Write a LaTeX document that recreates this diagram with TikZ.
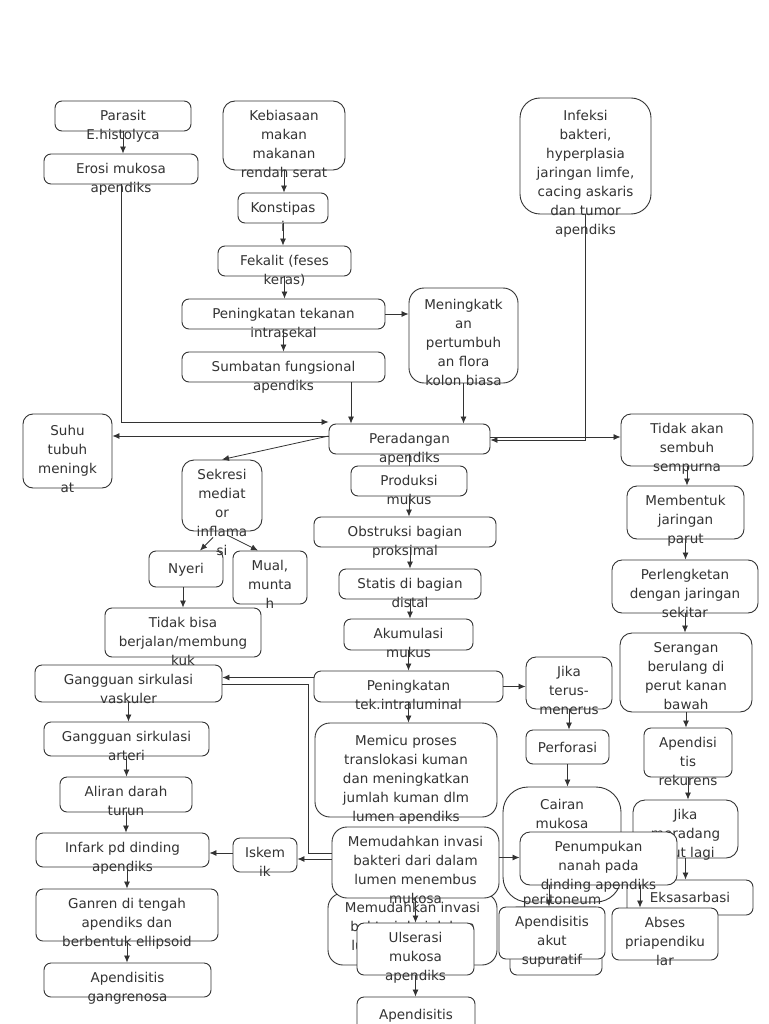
\documentclass[tikz,border=0pt]{standalone}
\usepackage{fontspec}
\setmainfont{DejaVu Sans}
\usetikzlibrary{arrows.meta}
\definecolor{garis}{HTML}{333333}
\tikzset{>={Latex[length=7pt,width=6pt]}}
\tikzset{kotak/.style={draw=garis, fill=white, line width=0.9pt, rounded corners=7pt, inner sep=0pt},
  teks/.style={anchor=north, yshift=-9.5pt, align=center, inner sep=0pt, text=garis, font=\fontsize{13.5}{19}\selectfont, execute at begin node=\strut},
  panah/.style={->, draw=garis, line width=0.8pt},
  garisan/.style={draw=garis, line width=0.8pt}}

\begin{document}
\begin{tikzpicture}[x=1pt,y=-1pt]

\useasboundingbox (0,0) rectangle (768,1024);

\node[kotak, minimum width=136pt, minimum height=30pt] (parasit) at (123,116) {};
\node[teks] at (parasit.north) {Parasit\\E.histolyca};
\node[kotak, minimum width=154pt, minimum height=30pt] (erosi) at (121,169) {};
\node[teks] at (erosi.north) {Erosi mukosa\\apendiks};
\node[kotak, minimum width=122pt, minimum height=69pt, rounded corners=12pt] (kebiasaan) at (284,135.5) {};
\node[teks] at (kebiasaan.north) {Kebiasaan\\makan\\makanan\\rendah serat};
\node[kotak, minimum width=90pt, minimum height=30pt] (konstipasi) at (283,208) {};
\node[teks] at (konstipasi.north) {Konstipas\\i};
\node[kotak, minimum width=133pt, minimum height=30pt] (fekalit) at (284.5,261) {};
\node[teks] at (fekalit.north) {Fekalit (feses\\keras)};
\node[kotak, minimum width=203pt, minimum height=30pt] (tekanan) at (283.5,314) {};
\node[teks] at (tekanan.north) {Peningkatan tekanan\\intrasekal};
\node[kotak, minimum width=203pt, minimum height=30pt] (sumbatan) at (283.5,367) {};
\node[teks] at (sumbatan.north) {Sumbatan fungsional\\apendiks};
\node[kotak, minimum width=109pt, minimum height=95pt, rounded corners=15pt] (flora) at (463.5,335.5) {};
\node[teks, yshift=-2pt] at (flora.north) {Meningkatk\\an\\pertumbuh\\an flora\\kolon biasa};
\node[kotak, minimum width=131pt, minimum height=116pt, rounded corners=20pt] (infeksi) at (585.5,156) {};
\node[teks, yshift=-3pt] at (infeksi.north) {Infeksi\\bakteri,\\hyperplasia\\jaringan limfe,\\cacing askaris\\dan tumor\\apendiks};

\node[kotak, minimum width=89pt, minimum height=74pt, rounded corners=10pt] (suhu) at (67.5,451) {};
\node[teks, yshift=-2pt] at (suhu.north) {Suhu\\tubuh\\meningk\\at};
\node[kotak, minimum width=161pt, minimum height=30pt] (peradangan) at (409.5,439) {};
\node[teks] at (peradangan.north) {Peradangan\\apendiks};
\node[kotak, minimum width=132pt, minimum height=52pt, rounded corners=10pt] (tidakakan) at (687,440) {};
\node[teks] at (tidakakan.north) {Tidak akan\\sembuh\\sempurna};
\node[kotak, minimum width=116pt, minimum height=30pt] (produksi) at (409,481) {};
\node[teks] at (produksi.north) {Produksi\\mukus};
\node[kotak, minimum width=182pt, minimum height=30pt] (obstruksi) at (405,532) {};
\node[teks] at (obstruksi.north) {Obstruksi bagian\\proksimal};
\node[kotak, minimum width=74pt, minimum height=36pt] (nyeri) at (186,569) {};
\node[teks] at (nyeri.north) {Nyeri};
\node[kotak, minimum width=74pt, minimum height=53pt] (mual) at (270,577.5) {};
\node[teks] at (mual.north) {Mual,\\munta\\h};
\node[kotak, minimum width=80pt, minimum height=71pt, rounded corners=12pt] (sekresi) at (222,495.5) {};
\node[teks] at (sekresi.north) {Sekresi\\mediat\\or\\inflama\\si};
\node[kotak, minimum width=142pt, minimum height=30pt] (statis) at (410,584) {};
\node[teks] at (statis.north) {Statis di bagian\\distal};
\node[kotak, minimum width=117pt, minimum height=53pt, rounded corners=10pt] (membentuk) at (685.5,512.5) {};
\node[teks] at (membentuk.north) {Membentuk\\jaringan\\parut};
\node[kotak, minimum width=146pt, minimum height=53pt, rounded corners=10pt] (perlengketan) at (685,586.5) {};
\node[teks] at (perlengketan.north) {Perlengketan\\dengan jaringan\\sekitar};
\node[kotak, minimum width=156pt, minimum height=49pt] (tidakbisa) at (183,632.5) {};
\node[teks] at (tidakbisa.north) {Tidak bisa\\berjalan/membung\\kuk};
\node[kotak, minimum width=129pt, minimum height=31pt] (akumulasi) at (408.5,634.5) {};
\node[teks] at (akumulasi.north) {Akumulasi\\mukus};
\node[kotak, minimum width=132pt, minimum height=79pt, rounded corners=12pt] (serangan) at (686,672.5) {};
\node[teks] at (serangan.north) {Serangan\\berulang di\\perut kanan\\bawah};

\node[kotak, minimum width=187pt, minimum height=37pt] (vaskuler) at (128.5,683.5) {};
\node[teks] at (vaskuler.north) {Gangguan sirkulasi\\vaskuler};
\node[kotak, minimum width=189pt, minimum height=31pt] (intraluminal) at (408.5,686.5) {};
\node[teks] at (intraluminal.north) {Peningkatan\\tek.intraluminal};
\node[kotak, minimum width=86pt, minimum height=52pt, rounded corners=10pt] (jikaterus) at (569,683) {};
\node[teks] at (jikaterus.north) {Jika\\terus-\\menerus};
\node[kotak, minimum width=165pt, minimum height=34pt] (arteri) at (126.5,739) {};
\node[teks] at (arteri.north) {Gangguan sirkulasi\\arteri};
\node[kotak, minimum width=182pt, minimum height=94pt, rounded corners=15pt] (memicu) at (406,770) {};
\node[teks, yshift=-3pt] at (memicu.north) {Memicu proses\\translokasi kuman\\dan meningkatkan\\jumlah kuman dlm\\lumen apendiks};
\node[kotak, minimum width=83pt, minimum height=34pt] (perforasi) at (567.5,747) {};
\node[teks] at (perforasi.north) {Perforasi};
\node[kotak, minimum width=88pt, minimum height=49pt] (rekurens) at (688,752.5) {};
\node[teks] at (rekurens.north) {Apendisi\\tis\\rekurens};
\node[kotak, minimum width=132pt, minimum height=35pt] (aliran) at (126,794.5) {};
\node[teks] at (aliran.north) {Aliran darah\\turun};

\node[kotak, minimum width=118pt, minimum height=115pt, rounded corners=25pt] (cairan) at (562,844.5) {};
\node[teks, yshift=-3pt] at (cairan.north) {Cairan\\mukosa\\[57pt]peritoneum};
\node[kotak, minimum width=105pt, minimum height=58pt, rounded corners=12pt] (meradang) at (685.5,829) {};
\node[teks] at (meradang.north) {Jika\\meradang\\akut lagi};
\node[kotak, minimum width=126pt, minimum height=35pt] (eksasarbasi) at (690,897.5) {};
\node[teks] at (eksasarbasi.north) {Eksasarbasi};
\node[kotak, minimum width=169pt, minimum height=72pt, rounded corners=15pt] (memudahkanbelakang) at (412.5,929) {};
\node[teks] at (memudahkanbelakang.north) {Memudahkan invasi\\bakteri dari dalam\\lumen menembus\\mukosa};
\node[kotak, minimum width=167pt, minimum height=71pt, rounded corners=15pt] (memudahkan) at (415.5,862.5) {};
\node[teks] at (memudahkan.north) {Memudahkan invasi\\bakteri dari dalam\\lumen menembus\\mukosa};
\node[kotak, minimum width=157pt, minimum height=53pt, rounded corners=10pt] (penumpukan) at (598.5,858.5) {};
\node[teks] at (penumpukan.north) {Penumpukan\\nanah pada\\dinding apendiks};
\node[kotak, minimum width=92pt, minimum height=68pt] (akutbelakang) at (556,941) {};
\node[kotak, minimum width=106pt, minimum height=52pt] (akut) at (552,933) {};
\node[teks] at (akut.north) {Apendisitis\\akut\\supuratif};
\node[kotak, minimum width=106pt, minimum height=52pt] (abses) at (665,934) {};
\node[teks] at (abses.north) {Abses\\priapendiku\\lar};
\node[kotak, minimum width=64pt, minimum height=34pt] (iskemik) at (265,855) {};
\node[teks] at (iskemik.north) {Iskem\\ik};
\node[kotak, minimum width=173pt, minimum height=34pt] (infark) at (122.5,850) {};
\node[teks] at (infark.north) {Infark pd dinding\\apendiks};
\node[kotak, minimum width=182pt, minimum height=52pt] (ganren) at (127,915) {};
\node[teks] at (ganren.north) {Ganren di tengah\\apendiks dan\\berbentuk  ellipsoid};
\node[kotak, minimum width=167pt, minimum height=34pt] (gangrenosa) at (127.5,980) {};
\node[teks] at (gangrenosa.north) {Apendisitis\\gangrenosa};
\node[kotak, minimum width=117pt, minimum height=52pt] (ulserasi) at (415.5,949) {};
\node[teks] at (ulserasi.north) {Ulserasi\\mukosa\\apendiks};
\node[kotak, minimum width=118pt, minimum height=38pt] (apendisitis) at (416,1016) {};
\node[teks] at (apendisitis.north) {Apendisitis};

\draw[panah] (parasit.south) -- (parasit.south |- erosi.north);
\draw[panah] (erosi.south) |- ([yshift=17pt]peradangan.west);
\draw[panah] ([yshift=3pt]peradangan.west) -- ([yshift=3pt]peradangan.west -| suhu.east);
\draw[panah] ([yshift=3pt]peradangan.west) -- (sekresi.north);
\draw[panah] (kebiasaan.south) -- (kebiasaan.south |- konstipasi.north);
\draw[panah] (konstipasi.south) -- (konstipasi.south |- fekalit.north);
\draw[panah] (fekalit.south) -- (fekalit.south |- tekanan.north);
\draw[panah] (tekanan.south) -- (tekanan.south |- sumbatan.north);
\draw[panah] (tekanan.east) -- (tekanan.east -| flora.west);
\draw[panah] ([xshift=67.5pt]sumbatan.south) -- ([xshift=67.5pt]sumbatan.south |- peradangan.north);
\draw[panah] (flora.south) -- (flora.south |- peradangan.north);
\draw[panah] (infeksi.south) |- ([yshift=-1pt]peradangan.east);
\draw[panah] ([yshift=2pt]peradangan.east) -- ([yshift=2pt]peradangan.east -| tidakakan.west);

\draw[garisan] (peradangan.south) -- (peradangan.south |- produksi.north);
\draw[panah] (produksi.south) -- (produksi.south |- obstruksi.north);
\draw[panah] (obstruksi.south -| statis.north) -- (statis.north);
\draw[panah] (statis.south) -- (statis.south |- akumulasi.north);
\draw[panah] (akumulasi.south) -- (akumulasi.south |- intraluminal.north);
\draw[panah] (intraluminal.south) -- (intraluminal.south |- memicu.north);
\draw[panah] (intraluminal.east) -- (intraluminal.east -| jikaterus.west);
\draw[panah] ([yshift=9pt]intraluminal.west) -- ([yshift=9pt]intraluminal.west -| vaskuler.east);
\draw[garisan] ([yshift=-1pt]vaskuler.east) -- ++(86,0) |- ([yshift=9.5pt]memudahkan.west);
\draw[panah] ([yshift=3.5pt]memudahkan.west) -- ([yshift=3.5pt]memudahkan.west -| iskemik.east);
\draw[panah] ([yshift=2pt]iskemik.west) -- ([yshift=2pt]iskemik.west -| infark.east);

\draw[panah] (sekresi.south) ++(-9,6) -- ([xshift=14pt]nyeri.north);
\draw[panah] (sekresi.south) ++(6,4) -- ([xshift=-12pt]mual.north);
\draw[panah] (nyeri.south -| tidakbisa.north) -- (tidakbisa.north);

\draw[panah] (vaskuler.south) -- (vaskuler.south |- arteri.north);
\draw[panah] (arteri.south) -- (arteri.south |- aliran.north);
\draw[panah] (aliran.south) -- (aliran.south |- infark.north);
\draw[panah] (infark.south -| ganren.north) -- (ganren.north);
\draw[panah] (ganren.south) -- (ganren.south |- gangrenosa.north);

\draw[panah] ([yshift=5pt]memudahkan.east) -- ([yshift=5pt]memudahkan.east -| penumpukan.west);
\draw[panah] (memudahkan.south) -- (memudahkan.south |- ulserasi.north);
\draw[panah] (ulserasi.south) -- (ulserasi.south |- apendisitis.north);
\draw[panah] (jikaterus.south) -- (jikaterus.south |- perforasi.north);
\draw[panah] (perforasi.south) -- (perforasi.south |- cairan.north);
\draw[panah] ([xshift=-49.5pt]penumpukan.south) -- ([xshift=-49.5pt]penumpukan.south |- akut.north);
\draw[panah] ([xshift=41.5pt]penumpukan.south) -- ([xshift=41.5pt]penumpukan.south |- abses.north);

\draw[panah] (tidakakan.south) -- (tidakakan.south |- membentuk.north);
\draw[panah] (membentuk.south) -- (membentuk.south |- perlengketan.north);
\draw[panah] (perlengketan.south) -- (perlengketan.south |- serangan.north);
\draw[panah] (serangan.south) -- (serangan.south |- rekurens.north);
\draw[panah] (rekurens.south) -- (rekurens.south |- meradang.north);
\draw[panah] (meradang.south) -- (meradang.south |- eksasarbasi.north);

\end{tikzpicture}
\end{document}
